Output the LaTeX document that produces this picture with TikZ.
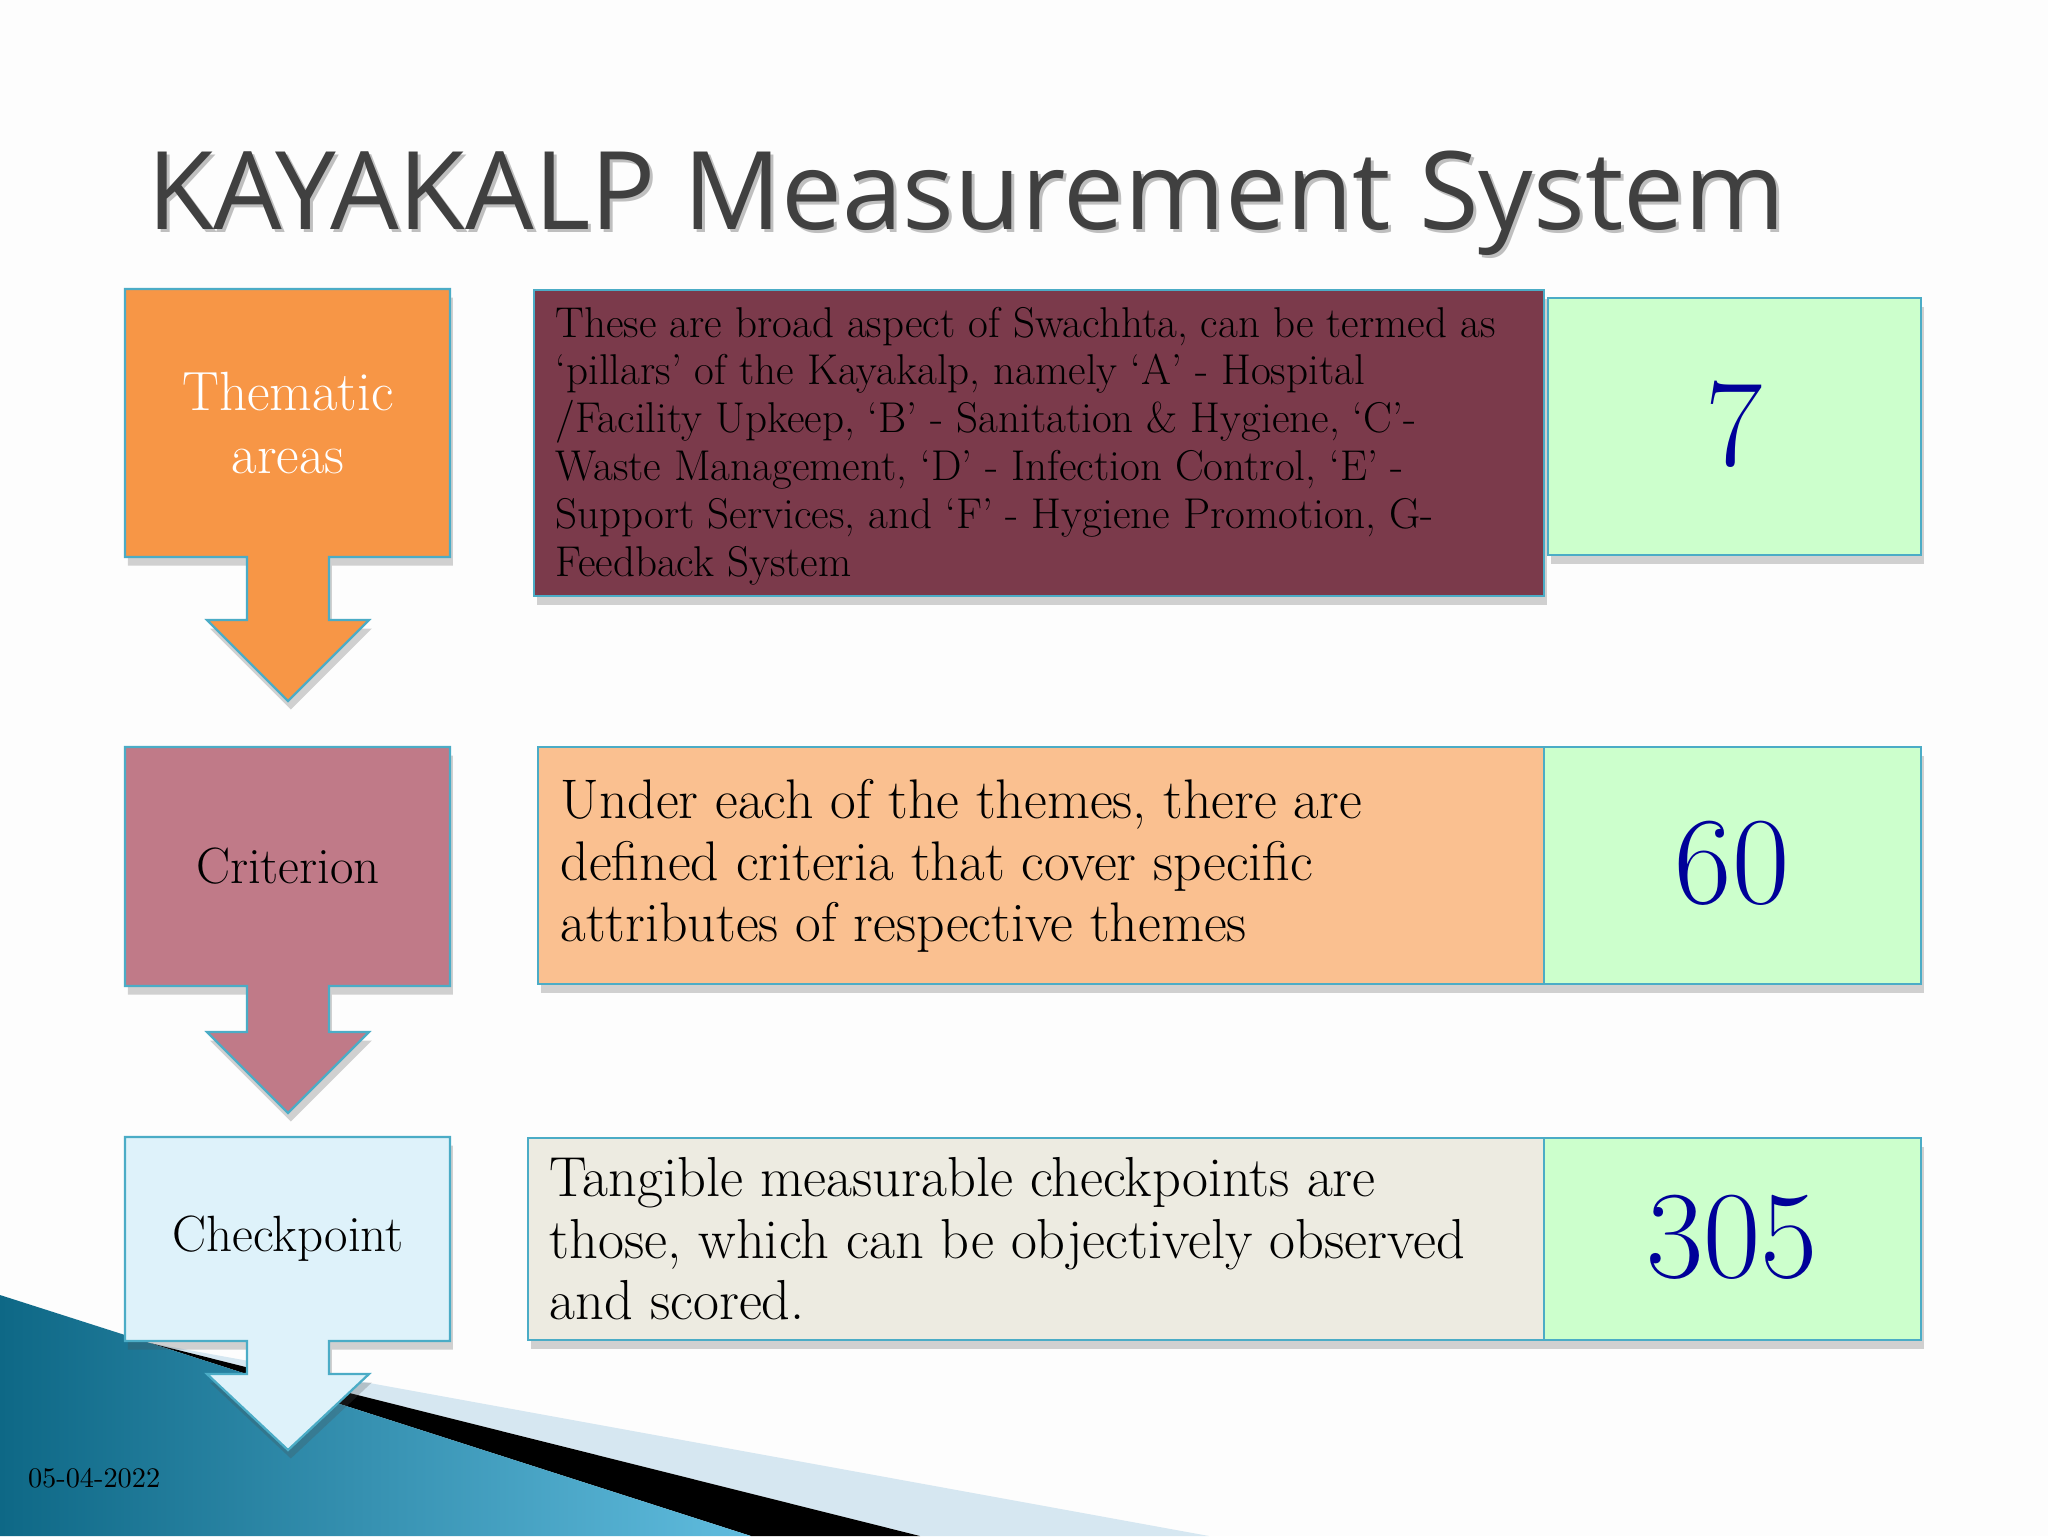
\documentclass[tikz,border=0pt]{standalone}
\usepackage{fontspec}
\newfontfamily\titlefont{Open Sans}
\usetikzlibrary{shadows}

\definecolor{rim}{RGB}{75,172,198}
\definecolor{thema}{RGB}{247,150,70}
\definecolor{crit}{RGB}{192,122,136}
\definecolor{chk}{RGB}{222,242,250}
\definecolor{wine}{RGB}{123,58,75}
\definecolor{peach}{RGB}{250,192,144}
\definecolor{sand}{RGB}{237,235,225}
\definecolor{mint}{RGB}{204,255,204}
\definecolor{navy}{RGB}{0,0,153}
\definecolor{sea1}{RGB}{14,104,134}
\definecolor{sea2}{RGB}{96,188,222}
\definecolor{haze}{RGB}{214,231,241}
\definecolor{slate}{RGB}{64,64,64}
\definecolor{paper}{RGB}{253,253,253}

\tikzset{
	boxshadow/.style={drop shadow={shadow xshift=1pt,shadow yshift=-3pt,opacity=.25,fill=black!70}},
	callout/.style={draw=rim,line width=0.8pt,boxshadow},
	plate/.style={draw=rim,line width=0.8pt,boxshadow},
	lbl/.style={align=center,font=\fontsize{18}{22}\selectfont},
	note/.style={anchor=west,align=left,inner sep=0pt},
	num/.style={text=navy,font=\fontsize{44}{50}\selectfont}
}

\begin{document}
\begin{tikzpicture}[x=0.0124cm,y=-0.0124cm]
	\useasboundingbox (0,0) rectangle (2048,1536);
	\fill[paper] (0,0) rectangle (2048,1536);

	\fill[haze] (150,1343) -- (1209,1536) -- (920,1536) -- cycle;
	\fill[black] (150,1343) -- (920,1536) -- (751,1536) -- cycle;
	\shade[left color=sea1,right color=sea2] (0,1295) -- (150,1343) -- (751,1536) -- (0,1536) -- cycle;
	\node[anchor=west,font=\fontsize{10}{12}\selectfont] (DT) at (18,1478) {05-04-2022};

	\node[anchor=base west,text=black!25,font=\titlefont\fontsize{38.3}{44}\selectfont] (TS) at (140,232) {KAYAKALP Measurement System};
	\node[anchor=base west,text=slate,font=\titlefont\fontsize{38.3}{44}\selectfont] (TT) at (137,229) {KAYAKALP Measurement System};

	\foreach \t/\b/\s/\e/\c in {289/557/620/701/thema,747/986/1032/1113/crit,1137/1341/1374/1450/chk}
	\draw[callout,fill=\c] (125,\t) -- (450,\t) -- (450,\b) -- (329,\b) -- (329,\s) -- (369,\s) -- (288,\e) -- (207,\s) -- (247,\s) -- (247,\b) -- (125,\b) -- cycle;

	\node[lbl,text=white,font=\fontsize{19.5}{22.5}\selectfont] (TH) at (288,423) {Thematic\\areas};
	\node[lbl] (CR) at (288,866) {Criterion};
	\node[lbl] (CK) at (288,1239) {Checkpoint};

	\draw[plate,fill=wine] (534,290) rectangle (1544,596);
	\draw[plate,fill=mint] (1548,298) rectangle (1921,555);
	\draw[plate,fill=peach] (538,747) rectangle (1544,984);
	\draw[plate,fill=mint] (1544,747) rectangle (1921,984);
	\draw[plate,fill=sand] (528,1138) rectangle (1544,1340);
	\draw[plate,fill=mint] (1544,1138) rectangle (1921,1340);

	\node[note,font=\fontsize{15.2}{16.9}\selectfont] (D1) at (555,446) {These are broad aspect of Swachhta, can be termed as\\`pillars' of the Kayakalp, namely `A' - Hospital\\/Facility Upkeep, `B' - Sanitation \& Hygiene, `C'-\\Waste Management, `D' - Infection Control, `E' -\\Support Services, and `F' - Hygiene Promotion, G-\\Feedback System};
	\node[note,font=\fontsize{19.7}{21.7}\selectfont] (D2) at (560,866) {Under each of the themes, there are\\defined criteria that cover specific\\attributes of respective themes};
	\node[note,font=\fontsize{19.9}{21.7}\selectfont] (D3) at (549,1239) {Tangible measurable checkpoints are\\those, which can be objectively observed\\and scored.};

	\node[num] (N1) at (1734,424) {7};
	\node[num] (N2) at (1732,863) {60};
	\node[num] (N3) at (1732,1237) {305};
\end{tikzpicture}
\end{document}
